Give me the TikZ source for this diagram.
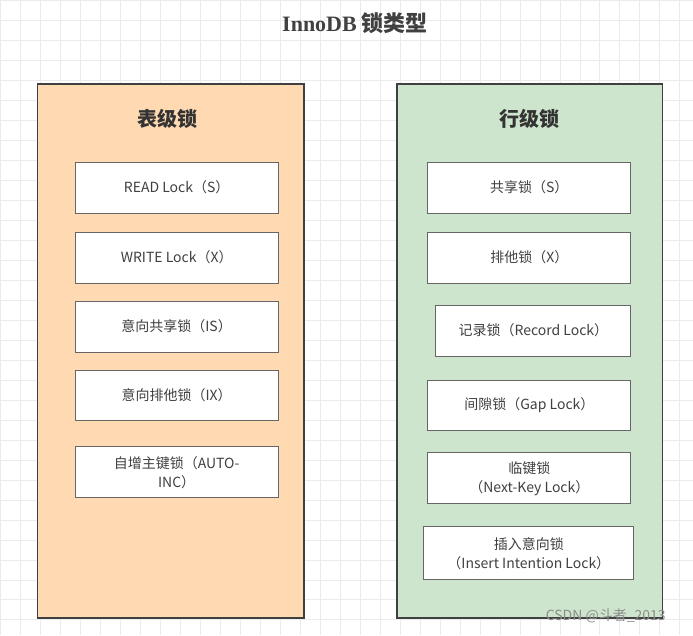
\documentclass[tikz,border=0pt]{standalone}
\usepackage{fontspec}
\setmainfont{Noto Sans CJK SC}
\newfontfamily\serifx{Liberation Serif}
\begin{document}
\begin{tikzpicture}[x=1pt,y=-1pt,
  panel/.style={draw=black!75,line width=1.5pt},
  item/.style={draw=black!60,fill=white,line width=0.9pt},
  itxt/.style={font=\fontsize{14}{19}\selectfont,text=black!75,align=center}]
\fill[white] (0,0) rectangle (693,635);
\foreach \k in {0,20,...,680} \draw[black!8,line width=0.6pt] (\k,0) -- (\k,635);
\foreach \k in {0,20,...,620} \draw[black!8,line width=0.6pt] (0,\k) -- (693,\k);
\useasboundingbox (0,0) rectangle (693,635);
\node[font=\fontsize{22}{26}\selectfont\bfseries,text=black!75] (title) at (355,23) {{\serifx\bfseries InnoDB} 锁类型};
\draw[panel,fill=orange!30!white] (37,84) rectangle (304,618);
\draw[panel,fill=green!50!black!20!white] (397,84) rectangle (663,618);
\node[font=\fontsize{20}{24}\selectfont\bfseries,text=black!80] (lt) at (167,119) {表级锁};
\node[font=\fontsize{20}{24}\selectfont\bfseries,text=black!80] (rt) at (530,119) {行级锁};
\foreach \y/\h/\t [count=\i] in {162/51/READ Lock（S）,232/51/WRITE Lock（X）,301/51/意向共享锁（IS）,370/51/意向排他锁（IX）,447/51/{自增主键锁（AUTO-\\INC）}}{
  \draw[item] (75,\y) rectangle (278,\y+\h);
  \node[itxt] (l\i) at (176.5,\y+\h/2) {\t};
}
\foreach \xa/\xb/\y/\h/\t [count=\i] in {428/631/162/51/共享锁（S）,428/631/232/51/排他锁（X）,436/631/305/51/记录锁（Record Lock）,428/631/380/51/间隙锁（Gap Lock）,428/631/453/51/{临键锁\\（Next-Key Lock）},424/634/527/53/{插入意向锁\\（Insert Intention Lock）}}{
  \draw[item] (\xa,\y) rectangle (\xb,\y+\h);
  \node[itxt] (r\i) at ({(\xa+\xb)/2},\y+\h/2) {\t};
}
\node[font=\fontsize{14}{16}\selectfont,text=black!45] (wm) at (606,616) {CSDN @斗者\_2013};
\end{tikzpicture}
\end{document}
